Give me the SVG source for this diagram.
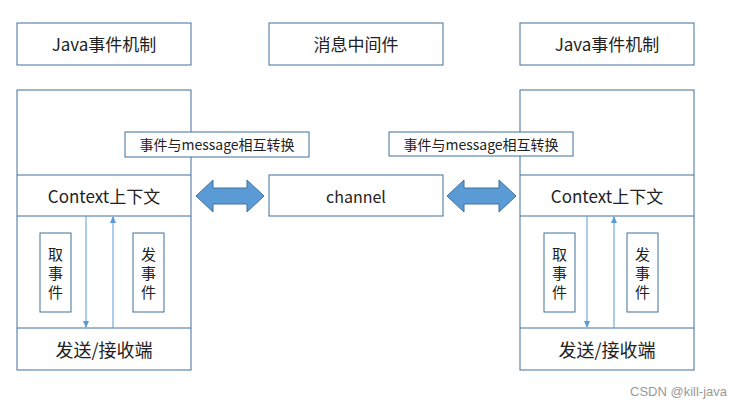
<svg xmlns="http://www.w3.org/2000/svg" width="742" height="408" viewBox="0 0 742 408">
<style>
.b{fill:#fff;stroke:#41719c;stroke-width:1}
.t{font-family:"Noto Sans CJK SC","Liberation Sans",sans-serif;fill:#222;text-anchor:middle}
.v{font-size:15px}
.l{stroke:#5b9bd5;stroke-width:1;fill:none}
.da{fill:#5b9bd5;stroke:#41719c;stroke-width:1}
</style>
<defs><marker id="ah" markerWidth="8" markerHeight="8" refX="6" refY="4" orient="auto" markerUnits="userSpaceOnUse"><path d="M0,1 L7,4 L0,7z" fill="#5b9bd5"/></marker></defs>
<rect width="742" height="408" fill="#fff"/>
<g id="left">
<rect class="b" x="17" y="23" width="174" height="42"/>
<text class="t" x="104" y="51" font-size="17">Java事件机制</text>
<rect class="b" x="17" y="90" width="174" height="280"/>
<line class="b" x1="17" y1="175" x2="191" y2="175"/>
<line class="b" x1="17" y1="216" x2="191" y2="216"/>
<line class="b" x1="17" y1="328" x2="191" y2="328"/>
<text class="t" x="104" y="203" font-size="17">Context上下文</text>
<text class="t" x="104" y="357" font-size="18">发送/接收端</text>
<rect class="b" x="40" y="233" width="31" height="79"/>
<text class="t v" x="55.5" y="260">取</text><text class="t v" x="55.5" y="279">事</text><text class="t v" x="55.5" y="298">件</text>
<rect class="b" x="133" y="233" width="31" height="79"/>
<text class="t v" x="148.5" y="260">发</text><text class="t v" x="148.5" y="279">事</text><text class="t v" x="148.5" y="298">件</text>
</g>
<g id="middle">
<rect class="b" x="269" y="23" width="174" height="42"/>
<text class="t" x="356" y="51" font-size="17">消息中间件</text>
<rect class="b" x="269" y="175" width="174" height="41"/>
<text class="t" x="356" y="203" font-size="16">channel</text>
</g>
<g id="right">
<rect class="b" x="520" y="23" width="174" height="42"/>
<text class="t" x="607" y="51" font-size="17">Java事件机制</text>
<rect class="b" x="520" y="90" width="174" height="280"/>
<line class="b" x1="520" y1="175" x2="694" y2="175"/>
<line class="b" x1="520" y1="216" x2="694" y2="216"/>
<line class="b" x1="520" y1="328" x2="694" y2="328"/>
<text class="t" x="607" y="203" font-size="17">Context上下文</text>
<text class="t" x="607" y="357" font-size="18">发送/接收端</text>
<rect class="b" x="544" y="233" width="31" height="79"/>
<text class="t v" x="559.5" y="260">取</text><text class="t v" x="559.5" y="279">事</text><text class="t v" x="559.5" y="298">件</text>
<rect class="b" x="627" y="233" width="31" height="79"/>
<text class="t v" x="642.5" y="260">发</text><text class="t v" x="642.5" y="279">事</text><text class="t v" x="642.5" y="298">件</text>
</g>
<g id="label-left"><rect class="b" x="125" y="132" width="184" height="25"/><text class="t" x="217" y="150" font-size="14">事件与message相互转换</text></g>
<g id="label-right"><rect class="b" x="389" y="132" width="184" height="24"/><text class="t" x="481" y="150" font-size="14">事件与message相互转换</text></g>
<g id="connectors">
<path class="da" d="M196,196 L213,180 L213,188 L247,188 L247,180 L264,196 L247,212 L247,204 L213,204 L213,212 Z"/>
<path class="da" d="M447,196 L464,180 L464,188 L499,188 L499,180 L516,196 L499,212 L499,204 L464,204 L464,212 Z"/>
<line class="l" x1="86" y1="216" x2="86" y2="327" marker-end="url(#ah)"/>
<line class="l" x1="113" y1="328" x2="113" y2="217" marker-end="url(#ah)"/>
<line class="l" x1="587" y1="216" x2="587" y2="327" marker-end="url(#ah)"/>
<line class="l" x1="614" y1="328" x2="614" y2="217" marker-end="url(#ah)"/>
</g>
<text x="727" y="396" font-family="Liberation Sans,sans-serif" font-size="13" fill="#999" text-anchor="end">CSDN @kill-java</text>
</svg>
